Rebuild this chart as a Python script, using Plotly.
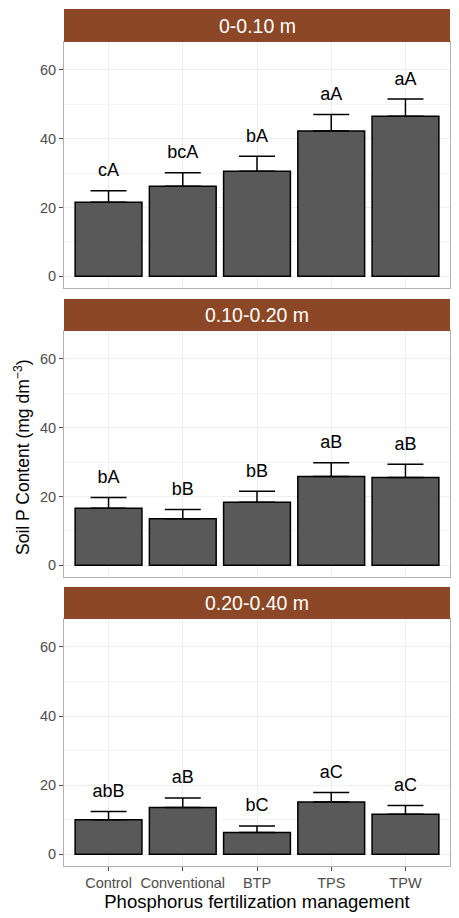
import plotly.graph_objects as go

# the page body adds an 8 px margin, so the figure is drawn 8 px smaller
OFF = 8
W, H = 459 - OFF, 918 - OFF

categories = ["Control", "Conventional", "BTP", "TPS", "TPW"]
depths = ["0-0.10 m", "0.10-0.20 m", "0.20-0.40 m"]

means_0_10 = [21.5, 26.2, 30.5, 42.2, 46.5]
se_0_10 = [3.4, 3.9, 4.4, 4.8, 5.0]
letters_0_10 = ["cA", "bcA", "bA", "aA", "aA"]

means_10_20 = [16.6, 13.5, 18.3, 25.8, 25.5]
se_10_20 = [3.1, 2.7, 3.2, 4.0, 3.9]
letters_10_20 = ["bA", "bB", "bB", "aB", "aB"]

means_20_40 = [10.0, 13.5, 6.3, 15.1, 11.6]
se_20_40 = [2.4, 2.8, 1.9, 2.8, 2.5]
letters_20_40 = ["abB", "aB", "bC", "aC", "aC"]

y_ticks = [0, 20, 40, 60]

panels = [
    (depths[0], means_0_10, se_0_10, letters_0_10),
    (depths[1], means_10_20, se_10_20, letters_10_20),
    (depths[2], means_20_40, se_20_40, letters_20_40),
]

# layout in page pixels
PAGE_L, PAGE_R, PAGE_T, PAGE_B = 64, 450, 9, 866
M_L = PAGE_L - OFF
M_T = PAGE_T - OFF
M_R = W - (PAGE_R - OFF)
M_B = H - (PAGE_B - OFF)
plot_h = H - M_T - M_B
# (strip_top, strip_bottom=panel_top, panel_bottom) in page px
boxes = [(9, 42, 288), (299, 331, 577), (587, 619, 866)]


def py(px):
    return (PAGE_B - px) / plot_h


FONT = "Liberation Sans, Arial, sans-serif"
fig = go.Figure()
shapes = []
annotations = []

for i, (depth, means, se, letters) in enumerate(panels):
    n = i + 1
    xa = "x" if n == 1 else f"x{n}"
    ya = "y" if n == 1 else f"y{n}"
    st, pt, pb = boxes[i]
    fig.add_trace(go.Bar(
        x=categories, y=means, xaxis=xa, yaxis=ya,
        width=0.9,
        marker=dict(color="#595959", line=dict(color="black", width=1.5)),
        error_y=dict(type="data", symmetric=False, array=se,
                     arrayminus=[0] * len(se), color="black",
                     thickness=1.5, width=18),
        showlegend=False, hoverinfo="skip",
    ))
    fig.add_trace(go.Scatter(
        x=categories, y=[m + s + 5.5 for m, s in zip(means, se)],
        xaxis=xa, yaxis=ya, mode="text", text=letters,
        textposition="middle center",
        textfont=dict(family=FONT, size=18, color="black"),
        showlegend=False, hoverinfo="skip",
    ))
    dom = [py(pb), py(pt)]
    last = (n == 3)
    xaxis = dict(
        domain=[0, 1], anchor=ya, range=[-0.6, 4.6],
        type="category", categoryorder="array", categoryarray=categories,
        showticklabels=last, ticks="outside" if last else "",
        ticklen=4, tickcolor="#4D4D4D", tickwidth=1,
        tickfont=dict(family=FONT, size=14.5, color="#4D4D4D"),
        showgrid=True, gridcolor="#EEEEEE", gridwidth=0.5,
        showline=True, linecolor="#B3B3B3", linewidth=1, mirror=True,
        zeroline=False,
    )
    if last:
        xaxis["title"] = dict(text="Phosphorus fertilization management",
                              font=dict(family=FONT, size=18.5, color="black"),
                              standoff=2)
    fig.update_layout(**{
        ("xaxis" if n == 1 else f"xaxis{n}"): xaxis,
        ("yaxis" if n == 1 else f"yaxis{n}"): dict(
            domain=dom, anchor=xa, range=[-3.4, 68.1],
            tickvals=y_ticks, ticks="outside", ticklen=4,
            tickcolor="#4D4D4D", tickwidth=1,
            tickfont=dict(family=FONT, size=14.5, color="#4D4D4D"),
            showgrid=True, gridcolor="#EEEEEE", gridwidth=0.6,
            minor=dict(dtick=10, showgrid=True, gridcolor="#F4F4F4", gridwidth=0.4),
            showline=True, linecolor="#B3B3B3", linewidth=1, mirror=True,
            zeroline=False,
        ),
    })
    # strip
    shapes.append(dict(type="rect", xref="paper", yref="paper",
                       x0=0, x1=1, y0=py(pt), y1=py(st),
                       fillcolor="#8B4726", line=dict(width=0), layer="above"))
    annotations.append(dict(xref="paper", yref="paper", x=0.5,
                            y=(py(pt) + py(st)) / 2, text=depth,
                            showarrow=False, xanchor="center", yanchor="middle",
                            font=dict(family=FONT, size=19.5, color="white")))

annotations.append(dict(
    xref="paper", yref="paper", x=-(PAGE_L - 22) / (PAGE_R - PAGE_L),
    y=py(457), text="Soil P Content (mg dm<sup>−3</sup>)", textangle=-90,
    showarrow=False, xanchor="center", yanchor="middle",
    font=dict(family=FONT, size=17.5, color="black")))

fig.update_layout(
    width=W, height=H,
    margin=dict(t=M_T, b=M_B, l=M_L, r=M_R),
    paper_bgcolor="white", plot_bgcolor="white",
    shapes=shapes, annotations=annotations,
    bargap=0.1,
)

fig.write_html("out.html")
